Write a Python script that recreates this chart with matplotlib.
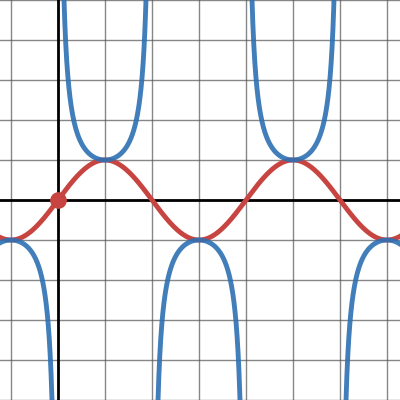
import numpy as np
import matplotlib.pyplot as plt

x_min, x_max = -58 / 47 * np.pi / 2, 342 / 47 * np.pi / 2
y_min, y_max = -5, 5
dot = (0.0, 0.0)

x = np.linspace(x_min, x_max, 6000)
s = np.sin(x)
c = 1 / s
c[np.abs(c) > 8] = np.nan

fig = plt.figure(figsize=(4, 4), dpi=100)
ax = fig.add_axes([0, 0, 1, 1])
ax.set_xlim(x_min, x_max)
ax.set_ylim(y_min, y_max)

for k in range(-2, 10):
    ax.axvline(k * np.pi / 2, color='#555555', lw=1, alpha=0.7)
for k in range(-5, 6):
    ax.axhline(k, color='#555555', lw=1, alpha=0.7)
ax.axvline(0, color='black', lw=2)
ax.axhline(0, color='black', lw=2)

ax.plot(x, s, color='#c74440', lw=3.5)
ax.plot(x, c, color='#2d70b3', lw=3.5, alpha=0.9)
ax.plot(*dot, 'o', color='#c74440', ms=11)
ax.set_axis_off()
fig.savefig('out.png')
